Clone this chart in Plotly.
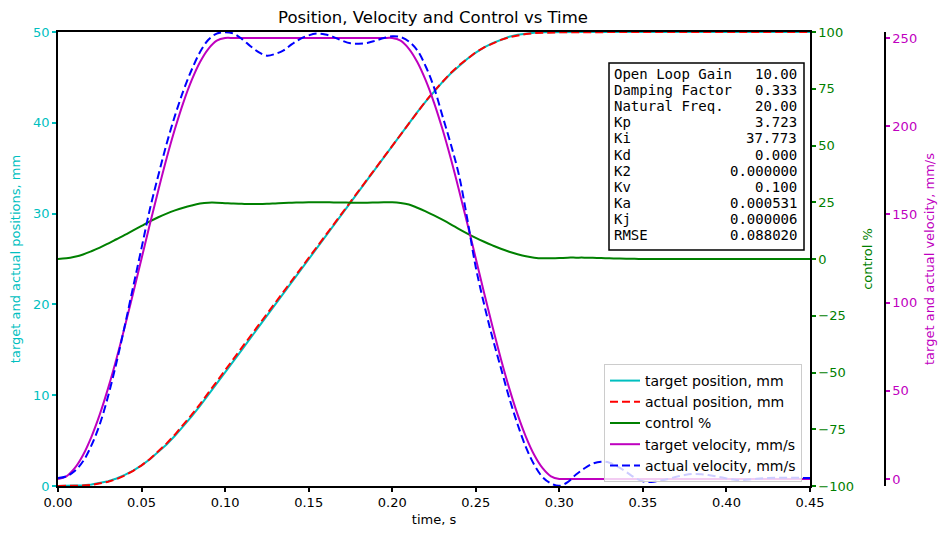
import plotly.graph_objects as go

# ---------------- data ----------------
time_s = [round(i * 0.005, 3) for i in range(91)]

pos_target = [
    0.00, 0.00, 0.02, 0.07, 0.16, 0.31, 0.53, 0.83, 1.22, 1.70,
    2.27, 2.95, 3.72, 4.58, 5.53, 6.56, 7.66, 8.82, 10.02, 11.25,
    12.50,
    13.75, 15.00, 16.25, 17.50, 18.75, 20.00, 21.25, 22.50, 23.75, 25.00,
    26.25, 27.50, 28.75, 30.00, 31.25, 32.50, 33.75, 35.00, 36.25, 37.50,
    38.75, 39.98, 41.18, 42.34, 43.44, 44.47, 45.42, 46.28, 47.06, 47.73,
    48.31, 48.78, 49.17, 49.47, 49.69, 49.84, 49.93, 49.98, 50.00, 50.00,
    50.00, 50.00, 50.00, 50.00, 50.00, 50.00, 50.00, 50.00, 50.00, 50.00,
    50.00, 50.00, 50.00, 50.00, 50.00, 50.00, 50.00, 50.00, 50.00, 50.00,
    50.00, 50.00, 50.00, 50.00, 50.00, 50.00, 50.00, 50.00, 50.00, 50.00,
]

pos_actual = [
    0.00, 0.00, 0.01, 0.05, 0.12, 0.25, 0.46, 0.76, 1.16, 1.67,
    2.27, 2.98, 3.79, 4.69, 5.67, 6.73, 7.85, 9.02, 10.23, 11.48,
    12.74,
    13.99, 15.24, 16.47, 17.68, 18.89, 20.10, 21.31, 22.54, 23.78, 25.04,
    26.30, 27.56, 28.82, 30.06, 31.29, 32.53, 33.76, 35.00, 36.24, 37.50,
    38.76, 40.00, 41.21, 42.38, 43.49, 44.53, 45.48, 46.34, 47.10, 47.76,
    48.31, 48.76, 49.13, 49.42, 49.63, 49.78, 49.88, 49.93, 49.95, 49.96,
    49.97, 49.98, 50.00, 50.01, 50.02, 50.02, 50.02, 50.02, 50.01, 50.01,
    50.01, 50.01, 50.01, 50.01, 50.00, 50.00, 50.00, 50.00, 50.00, 50.00,
    50.00, 50.00, 50.00, 50.00, 50.00, 50.00, 50.00, 50.00, 50.00, 50.00,
]

control_pct = [
    0.0, 0.3, 1.0, 2.0, 3.4, 5.0, 6.8, 8.7, 10.6, 12.6,
    14.6, 16.6, 18.4, 20.0, 21.4, 22.6, 23.6, 24.4, 24.8, 24.8,
    24.6,
    24.4, 24.3, 24.2, 24.2, 24.3, 24.5, 24.7, 24.8, 24.9, 25.0,
    25.0, 25.0, 24.9, 24.9, 24.8, 24.8, 24.8, 24.9, 25.0, 25.0,
    24.7, 24.0, 22.6, 21.0, 19.2, 17.3, 15.3, 13.2, 11.2, 9.3,
    7.6, 6.0, 4.5, 3.2, 2.1, 1.2, 0.6, 0.3, 0.3, 0.4,
    0.6, 0.6, 0.6, 0.5, 0.4, 0.3, 0.2, 0.1, 0.1, 0.0,
    0.0, 0.0, 0.0, 0.0, 0.0, 0.0, 0.0, 0.0, 0.0, 0.0,
    0.0, 0.0, 0.0, 0.0, 0.0, 0.0, 0.0, 0.0, 0.0, 0.0,
]

vel_target = [
    0.0, 1.5, 6.1, 13.6, 23.9, 36.6, 51.5, 68.2, 86.4, 105.4,
    125.0, 144.6, 163.6, 181.8, 198.5, 213.4, 226.1, 236.4, 243.9, 248.5,
    250.0,
    250.0, 250.0, 250.0, 250.0, 250.0, 250.0, 250.0, 250.0, 250.0, 250.0,
    250.0, 250.0, 250.0, 250.0, 250.0, 250.0, 250.0, 250.0, 250.0, 250.0,
    248.5, 243.9, 236.4, 226.1, 213.4, 198.5, 181.8, 163.6, 144.6, 125.0,
    105.4, 86.4, 68.2, 51.5, 36.6, 23.9, 13.6, 6.1, 1.5, 0.0,
    0.0, 0.0, 0.0, 0.0, 0.0, 0.0, 0.0, 0.0, 0.0, 0.0,
    0.0, 0.0, 0.0, 0.0, 0.0, 0.0, 0.0, 0.0, 0.0, 0.0,
    0.0, 0.0, 0.0, 0.0, 0.0, 0.0, 0.0, 0.0, 0.0, 0.0,
]

vel_actual = [
    0.5, 1.5, 4.5, 10.0, 19.0, 31.0, 47.0, 66.0, 87.0, 109.0,
    131.0, 153.0, 172.0, 190.0, 206.0, 220.0, 232.0, 242.0, 249.0, 252.5,
    253.3,
    252.5, 249.5, 245.5, 242.0, 240.0, 241.0, 243.0, 246.5, 249.5, 251.5,
    252.5, 252.0, 250.5, 248.5, 247.0, 246.8, 247.2, 248.5, 250.0, 251.0,
    250.5, 248.0, 243.0, 234.0, 222.0, 206.0, 190.0, 172.0, 147.0, 120.0,
    99.0, 80.0, 63.0, 46.0, 31.0, 18.0, 8.0, 1.0, -2.5, -3.9,
    -1.8, 2.5, 6.0, 8.7, 9.8, 9.2, 7.0, 4.0, 0.8, -1.3,
    -1.7, -1.0, 0.0, 1.2, 2.2, 2.8, 2.7, 2.1, 1.3, 0.3,
    -0.5, -0.6, -0.2, 0.2, 0.5, 0.7, 0.7, 0.7, 0.6, 0.6,
]

param_names = ["Open Loop Gain", "Damping Factor", "Natural Freq.", "Kp", "Ki",
               "Kd", "K2", "Kv", "Ka", "Kj", "RMSE"]
param_values = ["10.00", "0.333", "20.00", "3.723", "37.773",
                "0.000", "0.000000", "0.100", "0.000531", "0.000006", "0.088020"]

x_ticks = [0.0, 0.05, 0.10, 0.15, 0.20, 0.25, 0.30, 0.35, 0.40, 0.45]
pos_ticks = [0, 10, 20, 30, 40, 50]
ctrl_ticks = [-100, -75, -50, -25, 0, 25, 50, 75, 100]
vel_ticks = [0, 50, 100, 150, 200, 250]

# ---------------- styling ----------------
W, H = 950, 539
L, R, T, B = 58, 10, 32, 53
PW, PH = W - L - R, H - T - B


def px(x):
    return (x - L) / PW


def py(y):
    return (H - B - y) / PH


CYAN = "#00bfbf"
RED = "#ff0000"
GREEN = "#008000"
MAGENTA = "#bf00bf"
BLUE = "#0000ff"
FONT = "DejaVu Sans"

fig = go.Figure()
fig.add_trace(go.Scatter(x=time_s, y=pos_target, name="target position, mm", mode="lines",
                         line=dict(color=CYAN, width=2), yaxis="y"))
fig.add_trace(go.Scatter(x=time_s, y=pos_actual, name="actual position, mm", mode="lines",
                         line=dict(color=RED, width=2, dash="8px,4px"), yaxis="y"))
fig.add_trace(go.Scatter(x=time_s, y=control_pct, name="control %", mode="lines",
                         line=dict(color=GREEN, width=2, shape="spline"), yaxis="y2"))
fig.add_trace(go.Scatter(x=time_s, y=vel_target, name="target velocity, mm/s", mode="lines",
                         line=dict(color=MAGENTA, width=2, shape="spline"), yaxis="y3"))
fig.add_trace(go.Scatter(x=time_s, y=vel_actual, name="actual velocity, mm/s", mode="lines",
                         line=dict(color=BLUE, width=2, dash="8px,4px", shape="spline"), yaxis="y3"))

axis_common = dict(showgrid=False, zeroline=False, showline=True, linecolor="black",
                   linewidth=1.5, ticks="outside", ticklen=4, tickwidth=1.5,
                   automargin=False)

fig.update_layout(
    width=W, height=H,
    margin=dict(l=L, r=R, t=T, b=B, autoexpand=False),
    paper_bgcolor="white", plot_bgcolor="white",
    font=dict(family=FONT, size=13, color="black"),
    title=dict(text="Position, Velocity and Control vs Time", x=px(433), xanchor="center",
               xref="paper", y=1 - 17 / H, yanchor="middle", yref="container",
               font=dict(size=16.5, color="black")),
    xaxis=dict(domain=[0, px(810)], range=[0, 0.45], tickvals=x_ticks,
               ticktext=[f"{v:.2f}" for v in x_ticks], mirror=True,
               tickcolor="black", title=dict(text="time, s", standoff=6, font=dict(size=13)),
               **axis_common),
    yaxis=dict(range=[0, 50], tickvals=pos_ticks, tickcolor=CYAN,
               tickfont=dict(color=CYAN),
               title=dict(text="target and actual positions, mm", font=dict(color=CYAN, size=13),
                          standoff=10),
               **axis_common),
    yaxis2=dict(range=[-100, 100], tickvals=ctrl_ticks, overlaying="y", side="right",
                anchor="x", tickcolor=GREEN, tickfont=dict(color=GREEN),
                title=dict(text="control %", font=dict(color=GREEN, size=13), standoff=10),
                **axis_common),
    yaxis3=dict(range=[-4.0, 253.4], tickvals=vel_ticks, overlaying="y", side="right",
                anchor="free", position=px(885), tickcolor=MAGENTA,
                tickfont=dict(color=MAGENTA),
                title=dict(text="target and actual velocity, mm/s",
                           font=dict(color=MAGENTA, size=13), standoff=8),
                **axis_common),
    legend=dict(x=px(802), xanchor="right", y=py(482), yanchor="bottom",
                bgcolor="rgba(255,255,255,0.8)", bordercolor="#cccccc", borderwidth=1,
                font=dict(size=14), itemwidth=30, tracegroupgap=0),
    showlegend=True,
)

# parameter box
fig.add_shape(type="rect", xref="paper", yref="paper",
              x0=px(609), x1=px(804), y0=py(250), y1=py(63),
              line=dict(color="black", width=1.5), fillcolor="white", layer="above")
for i, (nm, val) in enumerate(zip(param_names, param_values)):
    yc = 74.3 + i * 16.04
    fig.add_annotation(x=px(612), y=py(yc), xref="paper", yref="paper", text=nm,
                       showarrow=False, xanchor="left", yanchor="middle",
                       font=dict(family="DejaVu Sans Mono", size=14, color="black"))
    fig.add_annotation(x=px(799), y=py(yc), xref="paper", yref="paper", text=val,
                       showarrow=False, xanchor="right", yanchor="middle",
                       font=dict(family="DejaVu Sans Mono", size=14, color="black"))

fig.write_html("out.html")
